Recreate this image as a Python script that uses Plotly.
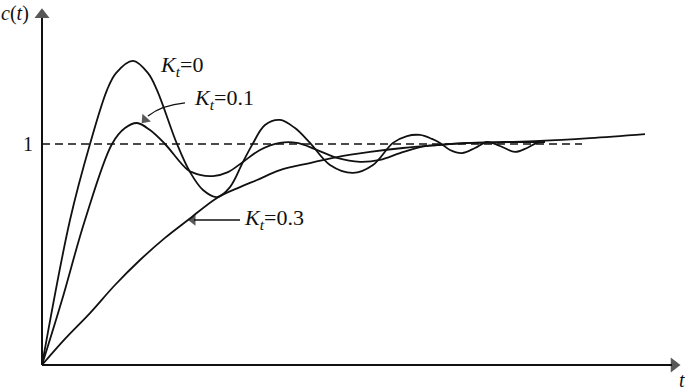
import plotly.graph_objects as go

# ---- data (t in arbitrary time units, c(t) normalised so steady state = 1) ----
t_k0 = [0, 0.28, 0.48, 0.65, 0.74, 0.91, 1.06, 1.15, 1.35, 1.48, 1.61, 1.75,
        1.88, 2.01, 2.10, 2.23, 2.38, 2.53, 2.68, 2.88, 3.11, 3.31, 3.51, 3.65, 3.78,
        3.90, 3.98, 4.08, 4.20, 4.33, 4.45, 4.58, 4.73, 4.85, 4.95, 5.03]
c_k0 = [0, 0.656, 1.000, 1.244, 1.321, 1.376, 1.321, 1.244, 1.000, 0.873,
        0.792, 0.760, 0.805, 0.919, 0.995, 1.086, 1.109, 1.072, 1.005, 0.905, 0.869,
        0.905, 1.005, 1.036, 1.041, 1.023, 1.005, 0.973, 0.959, 0.982, 1.009, 0.991,
        0.964, 0.982, 1.005, 1.009]

t_k01 = [0, 0.20, 0.43, 0.70, 0.83, 0.95, 1.08, 1.23, 1.46, 1.58, 1.71, 1.86,
         2.01, 2.18, 2.38, 2.55, 2.73, 2.95, 3.18, 3.38, 3.58, 3.78, 3.95, 4.28, 4.98]
c_k01 = [0, 0.294, 0.656, 1.000, 1.072, 1.095, 1.063, 1.000, 0.882, 0.860,
         0.855, 0.873, 0.919, 0.973, 1.005, 1.005, 0.977, 0.937, 0.919, 0.928, 0.959,
         0.986, 0.995, 1.005, 1.009]

t_k03 = [0, 0.23, 0.48, 0.73, 0.98, 1.23, 1.46, 1.75, 1.98, 2.15, 2.38, 2.68, 2.95, 3.28,
         3.61, 3.95, 4.28, 4.63, 4.98, 5.48, 6.03]
c_k03 = [0, 0.118, 0.235, 0.362, 0.475, 0.575, 0.656, 0.756, 0.805, 0.837, 0.882, 0.914,
         0.941, 0.964, 0.982, 0.995, 1.005, 1.009, 1.014, 1.027, 1.045]

ref_t = [0, 5.40]
ref_c = [1, 1]

labels = ["<i>K</i><sub><i>t</i></sub>=0", "<i>K</i><sub><i>t</i></sub>=0.1",
          "<i>K</i><sub><i>t</i></sub>=0.3"]

INK = "#111111"
FONT = "Liberation Serif"

fig = go.Figure()


def line(x, y, width=1.8, dash=None, shape="linear", smoothing=1.0):
    ln = dict(color=INK, width=width, shape=shape)
    if shape == "spline":
        ln["smoothing"] = smoothing
    if dash:
        ln["dash"] = dash
    fig.add_trace(go.Scatter(x=x, y=y, mode="lines", line=ln,
                             hoverinfo="skip", showlegend=False))


for tt, cc in [(t_k0, c_k0), (t_k01, c_k01), (t_k03, c_k03)]:
    line(tt, cc, width=1.8, shape="spline", smoothing=1.0)
line(ref_t, ref_c, width=1.5, dash="8px,5px")

# axes
line([0, 6.30], [0, 0], width=2)
line([0, 0], [0, 1.57], width=2)
# Kt=0.3 pointer line
line([1.98, 1.52], [0.656, 0.656], width=1.4)

# arrowheads (markers)
fig.add_trace(go.Scatter(
    x=[6.32, 0, 1.51, 1.03], y=[0, 1.585, 0.656, 1.111], mode="markers",
    marker=dict(symbol=["triangle-right", "triangle-up", "triangle-left", "triangle-up"],
                size=[13, 13, 10, 10], angle=[0, 0, 0, 222], color=INK,
                line=dict(width=0)),
    hoverinfo="skip", showlegend=False))

# curved pointer for Kt=0.1
fig.add_shape(type="path", xref="x", yref="y",
              path="M 1.43,1.186 Q 1.20,1.176 1.06,1.127",
              line=dict(color=INK, width=1.4))

ann = []
ann.append(dict(x=-0.27, y=1.592, xref="x", yref="y", text="<i>c</i>(<i>t</i>)",
                showarrow=False, font=dict(family=FONT, size=20, color=INK)))
ann.append(dict(x=6.40, y=-0.068, xref="x", yref="y", text="<i>t</i>",
                showarrow=False, font=dict(family=FONT, size=20, color=INK)))
ann.append(dict(x=-0.14, y=1.0, xref="x", yref="y", text="1",
                showarrow=False, font=dict(family=FONT, size=20, color=INK)))
ann.append(dict(x=1.16, y=1.355, xref="x", yref="y", text=labels[0], xanchor="left",
                showarrow=False, font=dict(family=FONT, size=22, color=INK)))
ann.append(dict(x=1.50, y=1.205, xref="x", yref="y", text=labels[1], xanchor="left",
                showarrow=False, font=dict(family=FONT, size=22, color=INK)))
ann.append(dict(x=2.00, y=0.662, xref="x", yref="y", text=labels[2], xanchor="left",
                showarrow=False, font=dict(family=FONT, size=22, color=INK)))

fig.update_layout(
    width=685, height=390, autosize=False,
    margin=dict(l=0, r=0, t=0, b=0, pad=0),
    paper_bgcolor="white", plot_bgcolor="white",
    xaxis=dict(range=[-0.42, 6.43], visible=False, fixedrange=True),
    yaxis=dict(range=[-0.1131, 1.6516], visible=False, fixedrange=True),
    annotations=ann,
)

fig.write_html("out.html", config={"displayModeBar": False},
               post_script="document.body.style.margin='0';")
